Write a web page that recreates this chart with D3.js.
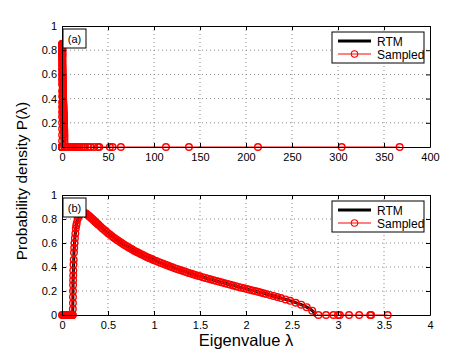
<!DOCTYPE html>
<html><head><meta charset="utf-8">
<script src="https://cdn.jsdelivr.net/npm/d3@7"></script>
<style>
body{margin:0;background:#fff;}
svg{display:block;font-family:"Liberation Sans",Arial,Helvetica,sans-serif;}
</style></head>
<body><svg id="c" width="474" height="356"></svg>
<script>
// ---- data ----
const yTicks = [0, 0.2, 0.4, 0.6, 0.8, 1];
const yTickLabels = ["0", "0.2", "0.4", "0.6", "0.8", "1"];
const xTicksA = [0, 50, 100, 150, 200, 250, 300, 350, 400];
const xTicksB = [0, 0.5, 1, 1.5, 2, 2.5, 3, 3.5, 4];
const xTickLabelsB = ["0", "0.5", "1", "1.5", "2", "2.5", "3", "3.5", "4"];
const seriesNames = ["RTM", "Sampled"];
const panelLabels = ["(a)", "(b)"];

// RTM theoretical density
const rtmX = [0, 0.117, 0.12, 0.13, 0.14, 0.15, 0.16, 0.18, 0.2, 0.22, 0.25, 0.3, 0.35, 0.4, 0.5, 0.6, 0.7, 0.8, 0.9, 1.0, 1.2, 1.4, 1.6, 1.8, 2.0, 2.2, 2.4, 2.5, 2.6, 2.65, 2.7, 2.73, 2.749, 2.76];
const rtmY = [0, 0, 0.272, 0.522, 0.643, 0.718, 0.767, 0.821, 0.845, 0.853, 0.848, 0.820, 0.785, 0.749, 0.682, 0.624, 0.574, 0.530, 0.491, 0.457, 0.397, 0.345, 0.300, 0.258, 0.218, 0.179, 0.137, 0.113, 0.086, 0.069, 0.048, 0.030, 0, 0];

// Sampled density (shared by both panels)
const sampledX = [0, 0.01, 0.02, 0.03, 0.04, 0.05, 0.06, 0.07, 0.08, 0.09, 0.1, 0.11, 0.115,
  0.117, 0.118, 0.119, 0.1195, 0.12, 0.1205, 0.121, 0.122, 0.123, 0.125, 0.127, 0.13, 0.133, 0.136, 0.14, 0.145, 0.15, 0.155, 0.16, 0.17, 0.18, 0.19, 0.2, 0.21,
  0.22, 0.23, 0.24, 0.25, 0.26, 0.27, 0.28, 0.29, 0.30, 0.31, 0.32, 0.33, 0.34, 0.35, 0.36, 0.37, 0.38, 0.39, 0.40, 0.42, 0.44, 0.46, 0.48, 0.50, 0.52, 0.54, 0.56, 0.58, 0.60, 0.62, 0.64, 0.66, 0.68, 0.70, 0.72, 0.74, 0.76, 0.78, 0.80, 0.82, 0.84, 0.86, 0.88, 0.90, 0.92, 0.94, 0.96, 0.98, 1.00,
  1.025, 1.05, 1.075, 1.10, 1.125, 1.15, 1.175, 1.20, 1.225, 1.25, 1.275, 1.30, 1.325, 1.35, 1.375, 1.40, 1.425, 1.45, 1.475, 1.50,
  1.53, 1.56, 1.59, 1.62, 1.65, 1.68, 1.71, 1.74, 1.77, 1.80, 1.83, 1.86, 1.89, 1.92, 1.95, 1.98, 2.01, 2.04, 2.07, 2.10, 2.13, 2.16, 2.19, 2.22,
  2.26, 2.30, 2.34, 2.38, 2.43, 2.48, 2.54, 2.60, 2.66, 2.72,
  2.787, 2.87, 2.95, 3.0, 3.02, 3.12, 3.23, 3.35, 3.36, 3.54];
const sampledY = [0, 0, 0, 0, 0, 0, 0, 0, 0, 0, 0, 0, 0,
  0, 0.05, 0.10, 0.15, 0.20, 0.25, 0.29, 0.33, 0.37, 0.42, 0.46, 0.52, 0.56, 0.60, 0.64, 0.68, 0.72, 0.745, 0.767, 0.80, 0.82, 0.835, 0.845, 0.85,
  0.853, 0.852, 0.851, 0.848, 0.845, 0.840, 0.833, 0.827, 0.820, 0.813, 0.806, 0.799, 0.792, 0.785, 0.778, 0.771, 0.764, 0.756, 0.749, 0.735, 0.721, 0.708, 0.695, 0.682, 0.670, 0.658, 0.646, 0.635, 0.624, 0.614, 0.604, 0.594, 0.584, 0.574, 0.565, 0.556, 0.547, 0.538, 0.530, 0.522, 0.514, 0.506, 0.499, 0.491, 0.484, 0.477, 0.470, 0.464, 0.457,
  0.449, 0.442, 0.434, 0.427, 0.419, 0.412, 0.404, 0.397, 0.390, 0.384, 0.377, 0.371, 0.364, 0.358, 0.351, 0.345, 0.339, 0.334, 0.328, 0.322,
  0.315, 0.309, 0.302, 0.296, 0.290, 0.283, 0.277, 0.270, 0.264, 0.258, 0.252, 0.246, 0.240, 0.234, 0.228, 0.222, 0.216, 0.210, 0.204, 0.199, 0.193, 0.187, 0.181, 0.175,
  0.167, 0.159, 0.150, 0.141, 0.130, 0.118, 0.102, 0.086, 0.065, 0.036,
  0, 0, 0, 0, 0, 0, 0, 0, 0, 0];

// extra far-out sampled eigenvalues seen only in panel (a)
const tailAX = [5, 7, 9, 11, 13, 15, 17, 19, 21, 23, 25, 28, 31, 35, 39, 40.5, 52, 55, 64, 113, 138, 213, 304, 367];
const tailAY = [0, 0, 0, 0, 0, 0, 0, 0, 0, 0, 0, 0, 0, 0, 0, 0, 0, 0, 0, 0, 0, 0, 0, 0];

// ---- drawing ----
const svg = d3.select("#c");
const L = 62, R = 430;
const panels = [
  {top: 26, bottom: 147, xDom: [0, 400], xTicks: xTicksA, xLabels: xTicksA.map(String), extraX: tailAX, extraY: tailAY, label: panelLabels[0]},
  {top: 195, bottom: 315, xDom: [0, 4], xTicks: xTicksB, xLabels: xTickLabelsB, extraX: [], extraY: [], label: panelLabels[1]}
];
const red = "#ff0000";

panels.forEach(p => {
  const x = d3.scaleLinear().domain(p.xDom).range([L, R]);
  const y = d3.scaleLinear().domain([0, 1]).range([p.bottom, p.top]);
  const g = svg.append("g");

  // grid
  g.append("g").selectAll("line").data(p.xTicks.slice(1, -1)).join("line")
    .attr("x1", d => x(d)).attr("x2", d => x(d)).attr("y1", p.top).attr("y2", p.bottom)
    .attr("stroke", "#8a8a8a").attr("stroke-width", 1).attr("stroke-dasharray", "1,3");
  g.append("g").selectAll("line").data(yTicks.slice(1, -1)).join("line")
    .attr("y1", d => y(d)).attr("y2", d => y(d)).attr("x1", L).attr("x2", R)
    .attr("stroke", "#8a8a8a").attr("stroke-width", 1).attr("stroke-dasharray", "1,3");

  // RTM line
  const pts = rtmX.map((d, i) => [d, rtmY[i]]);
  const line = d3.line().x(d => x(d[0])).y(d => y(d[1]));
  g.append("path").attr("d", line(pts)).attr("fill", "none").attr("stroke", "#000").attr("stroke-width", 3);

  // Sampled line + markers
  const sp = sampledX.map((d, i) => [d, sampledY[i]])
    .concat(p.extraX.map((d, i) => [d, p.extraY[i]]))
    .sort((a, b) => a[0] - b[0]);
  g.append("path").attr("d", line(sp)).attr("fill", "none").attr("stroke", red).attr("stroke-width", 1);
  g.append("g").selectAll("circle").data(sp).join("circle")
    .attr("cx", d => x(d[0])).attr("cy", d => y(d[1])).attr("r", 3.3)
    .attr("fill", "none").attr("stroke", red).attr("stroke-width", 1.4);

  // axes
  const fs = "11px";
  const bx = g.append("g").attr("transform", `translate(0,${p.bottom})`)
    .call(d3.axisBottom(x).tickValues(p.xTicks).tickFormat((d, i) => p.xLabels[i]).tickSize(-4).tickSizeOuter(0).tickPadding(6));
  const tx = g.append("g").attr("transform", `translate(0,${p.top})`)
    .call(d3.axisTop(x).tickValues(p.xTicks).tickFormat("").tickSize(-4).tickSizeOuter(0));
  const ly = g.append("g").attr("transform", `translate(${L},0)`)
    .call(d3.axisLeft(y).tickValues(yTicks).tickFormat((d, i) => yTickLabels[i]).tickSize(-4).tickSizeOuter(0).tickPadding(5));
  const ry = g.append("g").attr("transform", `translate(${R},0)`)
    .call(d3.axisRight(y).tickValues(yTicks).tickFormat("").tickSize(-4).tickSizeOuter(0));
  [bx, tx, ly, ry].forEach(a => {
    a.selectAll("text").attr("font-size", fs).attr("fill", "#000").attr("font-family", "Liberation Sans, Arial, sans-serif");
    a.selectAll("line").attr("stroke", "#000");
    a.select(".domain").attr("stroke", "#000");
  });

  // panel label box
  g.append("rect").attr("x", L + 1).attr("y", p.top + 3).attr("width", 23).attr("height", 19)
    .attr("fill", "#fff").attr("stroke", "#000").attr("stroke-width", 1);
  g.append("text").attr("x", L + 12.5).attr("y", p.top + 16.5).attr("text-anchor", "middle")
    .attr("font-size", "11px").text(p.label);

  // legend
  const lx = 332, lyTop = p.top + 6;
  g.append("rect").attr("x", lx).attr("y", lyTop).attr("width", 92).attr("height", 31)
    .attr("fill", "#fff").attr("stroke", "#000").attr("stroke-width", 1);
  g.append("line").attr("x1", lx + 6).attr("x2", lx + 39).attr("y1", lyTop + 9).attr("y2", lyTop + 9)
    .attr("stroke", "#000").attr("stroke-width", 3);
  g.append("line").attr("x1", lx + 6).attr("x2", lx + 39).attr("y1", lyTop + 22).attr("y2", lyTop + 22)
    .attr("stroke", red).attr("stroke-width", 1);
  g.append("circle").attr("cx", lx + 22.5).attr("cy", lyTop + 22).attr("r", 3.2)
    .attr("fill", "none").attr("stroke", red).attr("stroke-width", 1.1);
  g.append("text").attr("x", lx + 45).attr("y", lyTop + 13.5).attr("font-size", "12px").text(seriesNames[0]);
  g.append("text").attr("x", lx + 45).attr("y", lyTop + 26.5).attr("font-size", "12px").text(seriesNames[1]);
});

// axis titles
svg.append("text").attr("transform", "translate(27,181) rotate(-90)").attr("text-anchor", "middle")
  .attr("font-size", "15.5px").text("Probability density P(λ)");
svg.append("text").attr("x", 246).attr("y", 346).attr("text-anchor", "middle")
  .attr("font-size", "16.5px").text("Eigenvalue λ");
</script></body></html>
